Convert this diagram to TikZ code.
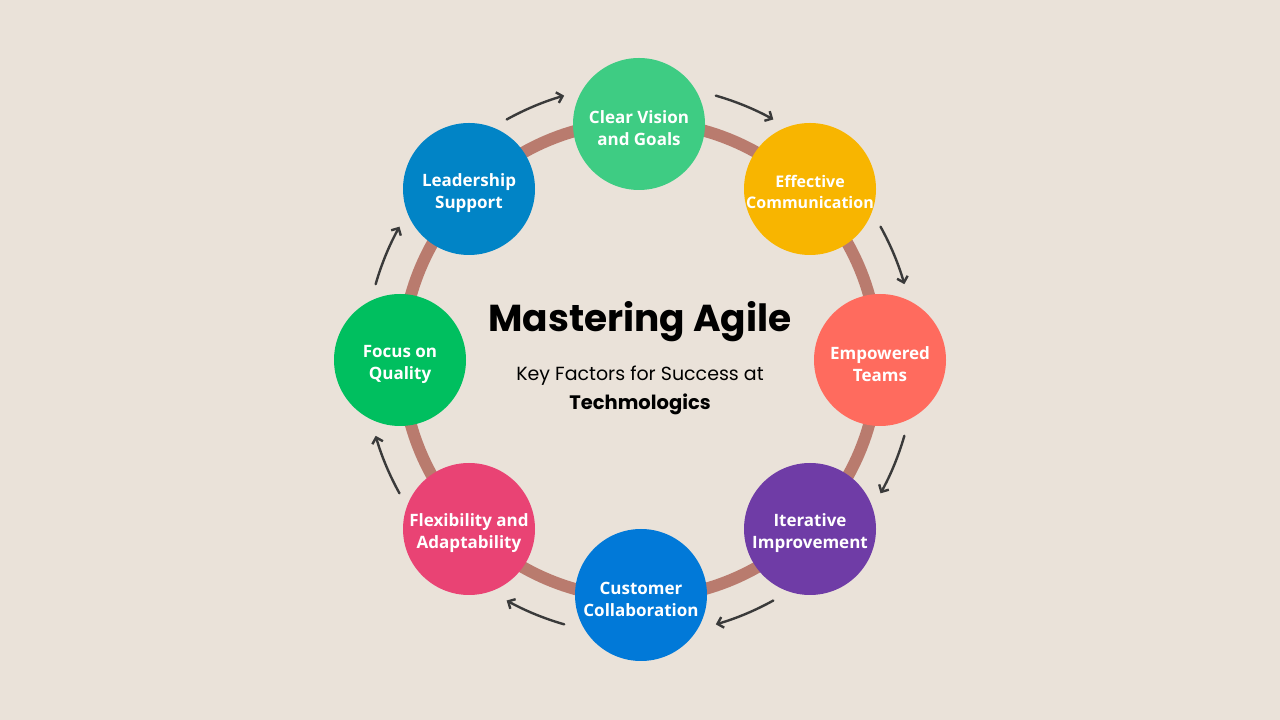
\documentclass[tikz,border=0pt]{standalone}
\usepackage{fontspec}
\setmainfont{Poppins}
\newfontfamily\labfont{Open Sans}
\usetikzlibrary{arrows.meta,calc}
\definecolor{bg}{HTML}{EAE2D9}
\definecolor{ringc}{HTML}{B97B6E}
\definecolor{arrc}{HTML}{3A3A3A}
\definecolor{cA}{HTML}{3ECC83}
\definecolor{cB}{HTML}{F8B500}
\definecolor{cC}{HTML}{FF6B5E}
\definecolor{cD}{HTML}{6F3CA6}
\definecolor{cE}{HTML}{0179D8}
\definecolor{cF}{HTML}{E94374}
\definecolor{cG}{HTML}{00BF5F}
\definecolor{cH}{HTML}{0184C6}
\tikzset{
  factor/.style={circle, minimum size=132pt, inner sep=0pt, fill=#1},
  factortext/.style={text=white, align=center, inner sep=0pt,
    font=\labfont\bfseries\fontsize{17}{22}\selectfont},
  flowarrow/.style={draw=arrc, line width=2.4pt, line cap=round,
    -{Straight Barb[length=5.5pt,width=11pt,line width=2.4pt]}},
}
\begin{document}
\begin{tikzpicture}[x=1pt,y=1pt]
\fill[bg] (0,0) rectangle (1280,720);
\useasboundingbox (0,0) rectangle (1280,720);
\coordinate (c) at (640,360);
\draw[ringc, line width=12pt] (c) circle[radius=238];
\node[factor=cA] (n1) at (639,596) {};
\node[factor=cB] (n2) at (810,531) {};
\node[factor=cC] (n3) at (880,360) {};
\node[factor=cD] (n4) at (810,191) {};
\node[factor=cE] (n5) at (641,125) {};
\node[factor=cF] (n6) at (469,191) {};
\node[factor=cG] (n7) at (400,360) {};
\node[factor=cH] (n8) at (469,531) {};
\node[factortext] (t1) at ([yshift=-4pt]n1.center) {Clear Vision\\and Goals};
\node[factortext, font=\labfont\bfseries\fontsize{16}{21}\selectfont] (t2) at ([yshift=-3pt]n2.center) {Effective\\Communication};
\node[factortext] (t3) at ([yshift=-4pt]n3.center) {Empowered\\Teams};
\node[factortext] (t4) at ([yshift=-4pt]n4.center) {Iterative\\Improvement};
\node[factortext] (t5) at ([yshift=-4pt]n5.center) {Customer\\Collaboration};
\node[factortext] (t6) at ([yshift=-4pt]n6.center) {Flexibility and\\Adaptability};
\node[factortext] (t7) at ([yshift=-4pt]n7.center) {Focus on\\Quality};
\node[factortext] (t8) at ([yshift=-4pt]n8.center) {Leadership\\Support};
\foreach \a in {112.5,67.5,22.5,-22.5,-67.5,-112.5,-157.5,157.5}{
  \draw[flowarrow] (c) ++(\a+6.5:275) arc[start angle=\a+6.5, end angle=\a-6.5, radius=275];
}
\node[font=\bfseries\fontsize{37.5}{45}\selectfont] (title) at (640,398) {Mastering Agile};
\node[font=\fontsize{19}{24}\selectfont] (sub) at (640,344) {Key Factors for Success at};
\node[font=\bfseries\fontsize{19.5}{24}\selectfont] (comp) at (640,316) {Techmologics};
\end{tikzpicture}
\end{document}
